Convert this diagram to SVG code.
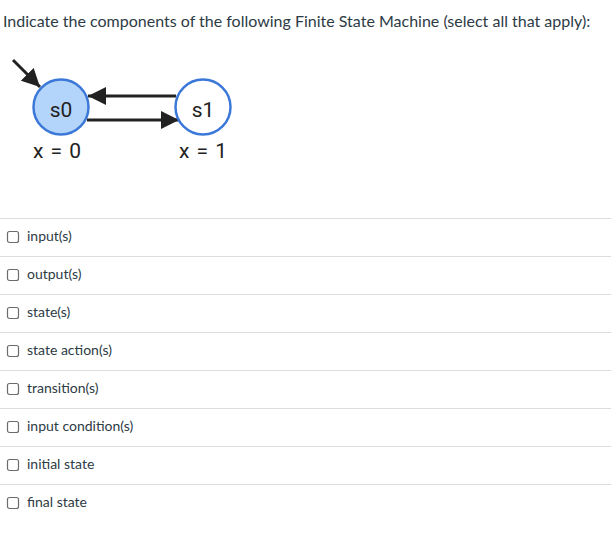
<svg xmlns="http://www.w3.org/2000/svg" width="611" height="539" viewBox="0 0 611 539">
<defs>
<style>
.q{font-family:Lato,"Open Sans",sans-serif;font-size:16px;fill:#2d3b45}
.st{stroke:#3c78d8;stroke-width:2.5}
.lbl{font-family:Roboto,"Liberation Sans",Arial,sans-serif;font-size:21px;fill:#222;text-anchor:middle}
.edge{stroke:#222;stroke-width:3;fill:none}
.sep{stroke:#dddddd;stroke-width:1}
.cb{fill:#fff;stroke:#6b6b6b;stroke-width:1.2}
.opt{font-family:Lato,"Open Sans",sans-serif;font-size:14px;fill:#2d3b45}
</style>
<marker id="ah" viewBox="0 0 10 10" refX="10" refY="5" markerWidth="6" markerHeight="6" orient="auto" markerUnits="strokeWidth">
<path d="M0,0 L10,5 L0,10 Z" fill="#222"/>
</marker>
</defs>
<rect width="611" height="539" fill="#fff"/>
<text class="q" x="3" y="27">Indicate the components of the following Finite State Machine (select all that apply):</text>
<g id="connectors">
<line class="edge" x1="13" y1="60" x2="40" y2="87" marker-end="url(#ah)"/>
<line class="edge" x1="176" y1="96" x2="88" y2="96" marker-end="url(#ah)"/>
<line class="edge" x1="87" y1="120" x2="179" y2="120" marker-end="url(#ah)"/>
</g>
<g id="s0">
<circle class="st" cx="61" cy="107" r="27.5" fill="#b4d5fb"/>
<text class="lbl" x="61" y="117">s0</text>
<text class="lbl" x="57" y="158" word-spacing="2">x = 0</text>
</g>
<g id="s1">
<circle class="st" cx="203" cy="107" r="27.5" fill="#fff"/>
<text class="lbl" x="203" y="117">s1</text>
<text class="lbl" x="203" y="158" word-spacing="2">x = 1</text>
</g>
<g id="options">
<line class="sep" x1="0" y1="218.5" x2="611" y2="218.5"/>
<line class="sep" x1="0" y1="256.5" x2="611" y2="256.5"/>
<line class="sep" x1="0" y1="294.5" x2="611" y2="294.5"/>
<line class="sep" x1="0" y1="332.5" x2="611" y2="332.5"/>
<line class="sep" x1="0" y1="370.5" x2="611" y2="370.5"/>
<line class="sep" x1="0" y1="408.5" x2="611" y2="408.5"/>
<line class="sep" x1="0" y1="446.5" x2="611" y2="446.5"/>
<line class="sep" x1="0" y1="484.5" x2="611" y2="484.5"/>
<rect class="cb" x="7.5" y="231.5" width="11" height="11" rx="2"/>
<text class="opt" x="27" y="241">input(s)</text>
<rect class="cb" x="7.5" y="269.5" width="11" height="11" rx="2"/>
<text class="opt" x="27" y="279">output(s)</text>
<rect class="cb" x="7.5" y="307.5" width="11" height="11" rx="2"/>
<text class="opt" x="27" y="317">state(s)</text>
<rect class="cb" x="7.5" y="345.5" width="11" height="11" rx="2"/>
<text class="opt" x="27" y="355">state action(s)</text>
<rect class="cb" x="7.5" y="383.5" width="11" height="11" rx="2"/>
<text class="opt" x="27" y="393">transition(s)</text>
<rect class="cb" x="7.5" y="421.5" width="11" height="11" rx="2"/>
<text class="opt" x="27" y="431">input condition(s)</text>
<rect class="cb" x="7.5" y="459.5" width="11" height="11" rx="2"/>
<text class="opt" x="27" y="469">initial state</text>
<rect class="cb" x="7.5" y="497.5" width="11" height="11" rx="2"/>
<text class="opt" x="27" y="507">final state</text>
</g>
</svg>
